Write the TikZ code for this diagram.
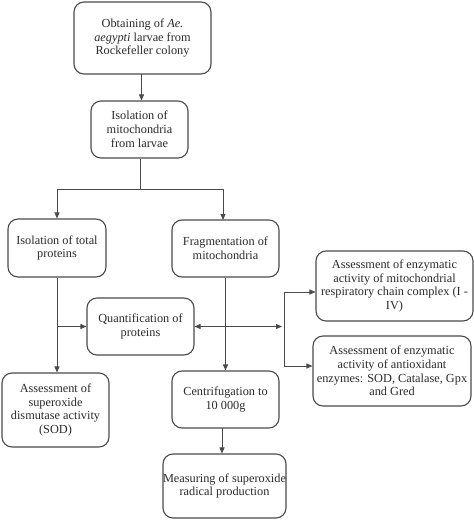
\documentclass[tikz,border=0pt]{standalone}
\usepackage{fontspec}
\setmainfont{Liberation Serif}
\usetikzlibrary{arrows.meta}
\definecolor{linegray}{HTML}{4A4A4A}
\definecolor{txtgray}{HTML}{2A2A2A}
\tikzset{
  box/.style={draw=linegray, line width=1.1pt, rounded corners=10pt, align=center,
    font=\fontsize{12.3}{13.8}\selectfont, text=txtgray, inner sep=0pt},
  conn/.style={draw=linegray, line width=0.9pt},
  arr/.style={conn, -{Triangle[length=6pt,width=5pt]}},
  darr/.style={conn, {Triangle[length=6pt,width=5pt]}-{Triangle[length=6pt,width=5pt]}}
}
\begin{document}
\begin{tikzpicture}[x=1pt,y=-1pt]
\useasboundingbox (0,0) rectangle (474,520);
\node[box, minimum width=137pt, minimum height=72pt] (b1) at (142.5,38) {Obtaining of \textit{Ae.}\\\textit{aegypti} larvae from\\Rockefeller colony};
\node[box, minimum width=97pt, minimum height=57pt] (b2) at (139.5,129.5) {Isolation of\\mitochondria\\from larvae};
\node[box, minimum width=98pt, minimum height=58pt] (b3) at (57,248) {Isolation of total\\proteins};
\node[box, minimum width=107pt, minimum height=57pt] (b4) at (225.5,248.5) {Fragmentation of\\mitochondria};
\node[box, minimum width=157pt, minimum height=70pt] (b5) at (394.5,286) {Assessment of enzymatic\\activity of mitochondrial\\respiratory chain complex (I -\\IV)};
\node[box, minimum width=158pt, minimum height=70pt] (b6) at (392,371) {Assessment of enzymatic\\activity of antioxidant\\enzymes: SOD, Catalase, Gpx\\and Gred};
\node[box, minimum width=107pt, minimum height=57pt] (q) at (140.5,326.5) {Quantification of\\proteins};
\node[box, minimum width=107pt, minimum height=74pt] (sod) at (55.5,410) {Assessment of\\superoxide\\dismutase activity\\(SOD)};
\node[box, minimum width=107pt, minimum height=57pt] (c) at (225.5,399.5) {Centrifugation to\\10 000g};
\node[box, minimum width=123pt, minimum height=64pt] (m) at (224.5,486) {Measuring of superoxide\\radical production};

\coordinate (split) at (140,189);
\coordinate (br) at (57,326.5);
\coordinate (dend) at (282,326.5);
\coordinate (k1) at (284,292);
\coordinate (k2) at (284,366);

\draw[arr] (141.5,74) coordinate (t1) -- (t1 |- b2.north);
\draw[conn] (split |- b2.south) -- (split);
\draw[arr] (split) -| (b3.north);
\draw[arr] (split) -| (223,220) coordinate (t4);
\draw[arr] (b3.south) -- (b3.south |- sod.north);
\draw[arr] (br) -- (q.west);
\draw[arr] (b4.south) -- (b4.south |- c.north);
\draw[darr] (q.east) -- (dend);
\draw[conn] (k1) -- (k2);
\draw[arr] (k1) -- (k1 -| b5.west);
\draw[arr] (k2) -- (k2 -| b6.west);
\draw[arr] (222,428) coordinate (t5) -- (t5 |- m.north);
\end{tikzpicture}
\end{document}
